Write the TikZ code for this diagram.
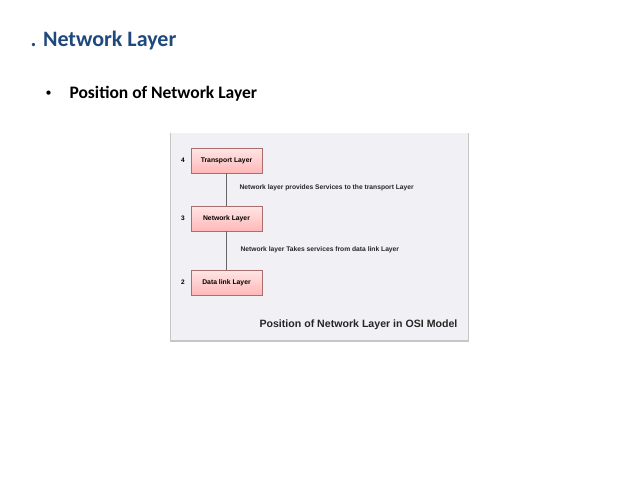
\documentclass[tikz,border=0pt]{standalone}
\usepackage{fontspec}
\setmainfont{Carlito}
\newfontfamily\arial{Liberation Sans}
\definecolor{titleblue}{RGB}{31,73,125}
\definecolor{panelbg}{RGB}{241,240,244}
\definecolor{boxedge}{RGB}{170,110,110}
\begin{document}
\begin{tikzpicture}[x=1pt,y=-1pt,
  layerbox/.style={draw=boxedge, minimum width=71pt, minimum height=25pt, inner sep=0pt, font=\arial\bfseries\fontsize{6.8}{8}\selectfont, top color=red!10!white, bottom color=red!28!white},
  num/.style={font=\arial\bfseries\fontsize{6.5}{7}\selectfont},
  lbl/.style={anchor=west, font=\arial\bfseries\fontsize{6.7}{8}\selectfont, text=black!85}]
\useasboundingbox (0,0) rectangle (638,478);
\fill[white] (0,0) rectangle (638,478);
\node[anchor=west, font=\bfseries\fontsize{22}{26}\selectfont, text=titleblue] (title) at (27,41) {. Network Layer};
\node[anchor=west, font=\fontsize{12}{14}\selectfont] (bul) at (42,94) {•};
\node[anchor=west, font=\bfseries\fontsize{17.5}{20}\selectfont] (sub) at (66,94) {Position of Network Layer};
\fill[gray!45] (170,133) rectangle (469,342);
\fill[panelbg] (171,133) rectangle (468,340);
\node[layerbox] (t) at (226.5,160.5) {Transport Layer};
\node[layerbox] (n) at (226.5,218.5) {Network Layer};
\node[layerbox] (d) at (226.5,282.5) {Data link Layer};
\draw[black!60, line width=0.6pt] (t) -- (n) (n) -- (d);
\node[num] (n4) at (183,160.5) {4};
\node[num] (n3) at (183,218.5) {3};
\node[num] (n2) at (183,282.5) {2};
\node[lbl] (l1) at (236,188) {Network layer provides Services to the transport Layer};
\node[lbl] (l2) at (237,250) {Network layer Takes services from data link Layer};
\node[anchor=west, font=\arial\bfseries\fontsize{10.6}{12}\selectfont, text=black!85] (cap) at (256,325) {Position of Network Layer in OSI Model};
\end{tikzpicture}
\end{document}
